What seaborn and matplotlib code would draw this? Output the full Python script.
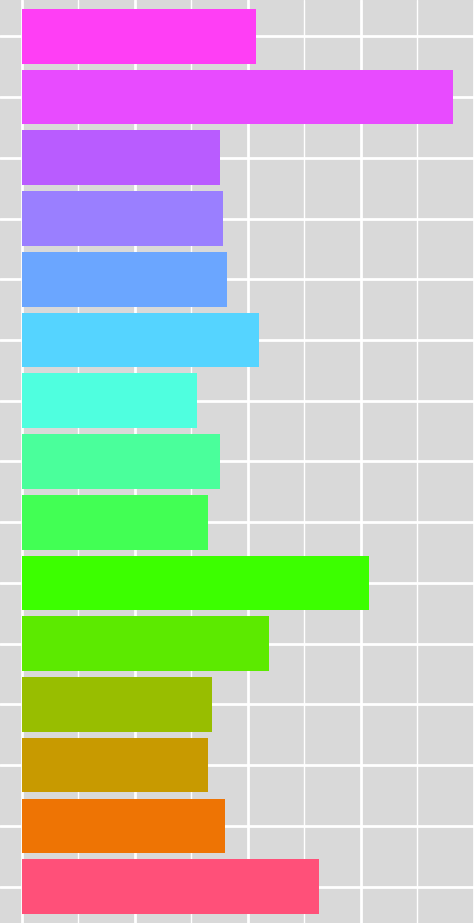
import matplotlib
matplotlib.use("Agg")
import matplotlib.pyplot as plt
from matplotlib.ticker import MultipleLocator
import seaborn as sns
import pandas as pd

# one bar per category, top to bottom
categories = list("ABCDEFGHIJKLMNO")
values = [20.7, 38.1, 17.5, 17.8, 18.2, 21.0, 15.5, 17.5, 16.5, 30.7,
          21.9, 16.8, 16.5, 18.0, 26.3]
bar_colors = ["#FF3EF5", "#E84BFF", "#B95CFF", "#9A7FFF", "#6BA6FF",
              "#55D4FF", "#4FFFDF", "#4AFF9B", "#42FF54", "#3CFF00",
              "#5CEA00", "#98BE00", "#C89A00", "#EE7404", "#FF5079"]

df = pd.DataFrame({"cat": categories, "val": values})

sns.set_style("darkgrid")
fig = plt.figure(figsize=(4.741, 9.231), dpi=100)
ax = fig.add_axes([0, 0, 1, 1])
ax.set_facecolor("#D9D9D9")

sns.barplot(data=df, y="cat", x="val", hue="cat", palette=bar_colors,
            width=0.9, legend=False, ax=ax, saturation=1, linewidth=0)

vmax = max(values)
ax.set_xlim(-0.05 * vmax, 1.05 * vmax)
ax.set_ylim(len(categories) - 0.4, -0.6)

ax.xaxis.set_major_locator(MultipleLocator(10))
ax.xaxis.set_minor_locator(MultipleLocator(5))
ax.grid(which="major", color="white", linewidth=2)
ax.grid(which="minor", axis="x", color="white", linewidth=1)
ax.set_axisbelow(True)

ax.set_xlabel("")
ax.set_ylabel("")
ax.tick_params(which="both", length=0, labelleft=False, labelbottom=False)
for s in ax.spines.values():
    s.set_visible(False)

fig.savefig("out.png", dpi=100)
